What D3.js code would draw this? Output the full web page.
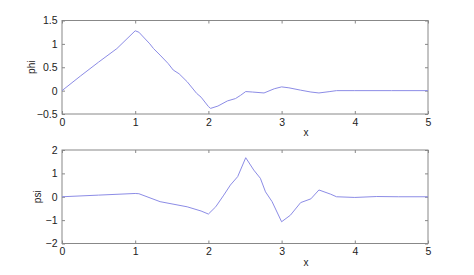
<!DOCTYPE html>
<html>
<head>
<meta charset="utf-8">
<script src="https://cdn.jsdelivr.net/npm/d3@7"></script>
<style>
  body { margin: 0; background: #fff; }
  svg { display: block; }
  .tick text { font-family: "Liberation Sans", Arial, sans-serif; font-size: 10.5px; fill: #222; }
  .tick line { stroke: #888; }
  .lbl { font-family: "Liberation Sans", Arial, sans-serif; font-size: 10px; fill: #222; }
</style>
</head>
<body>
<div id="chart"></div>
<script>
// values
const phiX = [0, 0.25, 0.5, 0.75, 1.0, 1.05, 1.2, 1.25, 1.34, 1.45, 1.52, 1.6, 1.71, 1.84, 1.9, 2.0, 2.03, 2.13, 2.26, 2.37, 2.44, 2.51, 2.6, 2.76, 2.9, 3.0, 3.1, 3.26, 3.4, 3.51, 3.66, 3.75, 4.0, 4.5, 5.0];
const phi  = [0, 0.31, 0.61, 0.9, 1.28, 1.25, 1.0, 0.9, 0.76, 0.58, 0.44, 0.36, 0.19, -0.06, -0.14, -0.34, -0.38, -0.33, -0.22, -0.17, -0.1, -0.02, -0.03, -0.05, 0.04, 0.08, 0.06, 0.01, -0.03, -0.05, -0.02, 0, 0, 0, 0];

const psiX = [0, 0.5, 1.0, 1.05, 1.34, 1.71, 1.9, 2.0, 2.1, 2.21, 2.3, 2.4, 2.51, 2.62, 2.71, 2.78, 2.87, 3.0, 3.12, 3.26, 3.4, 3.51, 3.67, 3.75, 4.0, 4.3, 4.6, 5.0];
const psi  = [0, 0.07, 0.14, 0.13, -0.21, -0.43, -0.61, -0.74, -0.43, 0.07, 0.5, 0.86, 1.67, 1.14, 0.79, 0.21, -0.21, -1.07, -0.79, -0.25, -0.09, 0.29, 0.11, 0.0, -0.03, 0.01, 0, 0];

const xTicks = [0, 1, 2, 3, 4, 5];
const phiTicks = [-0.5, 0, 0.5, 1, 1.5];
const psiTicks = [-2, -1, 0, 1, 2];

const W = 474, H = 275;
const left = 62, right = 428;

const svg = d3.select('#chart').append('svg')
    .attr('width', W)
    .attr('height', H);

const x = d3.scaleLinear().domain([0, 5]).range([left, right]);

function panel(xs, ys, yDomain, yTicks, top, bottom, name, nameX) {
    const y = d3.scaleLinear().domain(yDomain).range([bottom, top]);
    const g = svg.append('g');

    // bottom axis with labels, ticks pointing in
    g.append('g')
        .attr('transform', `translate(0,${bottom})`)
        .call(d3.axisBottom(x).tickValues(xTicks).tickFormat(d3.format('')).tickSizeInner(-3).tickSizeOuter(0).tickPadding(4.5))
        .call(a => a.select('.domain').remove());
    // mirrored ticks on top
    g.append('g')
        .attr('transform', `translate(0,${top})`)
        .call(d3.axisTop(x).tickValues(xTicks).tickFormat('').tickSizeInner(-3).tickSizeOuter(0))
        .call(a => a.select('.domain').remove());
    g.append('g')
        .attr('transform', `translate(${left},0)`)
        .call(d3.axisLeft(y).tickValues(yTicks).tickFormat(d3.format('')).tickSizeInner(-3).tickSizeOuter(0).tickPadding(4.5))
        .call(a => a.select('.domain').remove());
    g.append('g')
        .attr('transform', `translate(${right},0)`)
        .call(d3.axisRight(y).tickValues(yTicks).tickFormat('').tickSizeInner(-3).tickSizeOuter(0))
        .call(a => a.select('.domain').remove());

    g.append('rect')
        .attr('x', left)
        .attr('y', top)
        .attr('width', right - left)
        .attr('height', bottom - top)
        .attr('fill', 'none')
        .attr('stroke', '#888');

    const line = d3.line()
        .x((d, i) => x(xs[i]))
        .y(d => y(d));

    g.append('path')
        .datum(ys)
        .attr('fill', 'none')
        .attr('stroke', '#8c8ce6')
        .attr('stroke-width', 1)
        .attr('d', line);

    g.append('text')
        .attr('class', 'lbl')
        .attr('x', (left + right) / 2 + 61)
        .attr('y', bottom + 22)
        .attr('text-anchor', 'middle')
        .text('x');

    g.append('text')
        .attr('class', 'lbl')
        .attr('transform', `translate(${nameX},${(top + bottom) / 2}) rotate(-90)`)
        .attr('text-anchor', 'middle')
        .text(name);
}

panel(phiX, phi, [-0.5, 1.5], phiTicks, 20.5, 114, 'phi', 35);
panel(psiX, psi, [-2, 2], psiTicks, 150, 243.5, 'psi', 41);
</script>
</body>
</html>
